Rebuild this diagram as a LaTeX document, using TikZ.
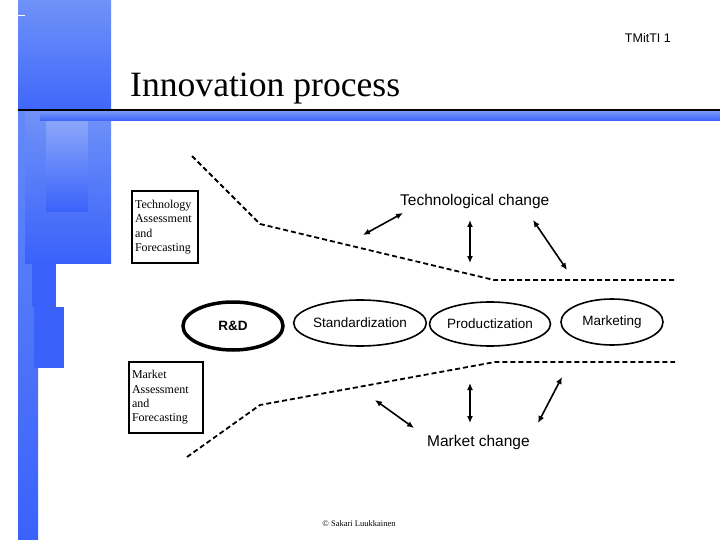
\documentclass[tikz,border=0pt]{standalone}
\usepackage{fontspec}
\setmainfont{Liberation Serif}
\newfontfamily\arialfont{Liberation Sans}
\usepackage{tikz}
\usetikzlibrary{shapes.geometric,arrows.meta}
\definecolor{barlight}{RGB}{112,146,248}
\definecolor{bardark}{RGB}{58,98,250}

\begin{document}
\begin{tikzpicture}[x=1pt,y=-1pt,
    stage/.style={draw,ellipse,line width=1.6pt,inner sep=0pt,font=\arialfont\fontsize{13.5}{15}\selectfont},
    assess/.style={draw,line width=1.6pt,align=left,inner sep=3pt,font=\fontsize{12}{14.3}\selectfont},
    change/.style={font=\arialfont\fontsize{15.5}{17}\selectfont},
    boundary/.style={line width=1.8pt,dash pattern=on 5pt off 3pt},
    linkarrow/.style={{Latex[length=7pt,width=6pt]}-{Latex[length=7pt,width=6pt]},line width=1.6pt}]
    \useasboundingbox (0,0) rectangle (720,540);
    % left decoration
    \shade[top color=barlight,bottom color=bardark] (18,0) rectangle (38,540);
    \shade[top color=barlight,bottom color=bardark!90!barlight] (18,0) rectangle (111,110);
    \shade[top color=barlight,bottom color=bardark] (25,110) rectangle (111,263);
    \shade[top color=barlight!80!white,bottom color=bardark] (46,119) rectangle (88,212);
    \fill[bardark] (32,263) rectangle (56,307);
    \fill[bardark] (34,307) rectangle (64,368);
    \shade[top color=barlight,bottom color=bardark] (40,112) rectangle (720,121);
    \draw[white,line width=1pt] (18,16) -- (25,16);
    \draw[black,line width=2.2pt] (18,110) -- (720,110);
    % title
    \node[anchor=base west,inner sep=0pt,font=\fontsize{35.6}{40}\selectfont] (title) at (130,97) {Innovation process};
    \node[anchor=base east,inner sep=0pt,font=\arialfont\fontsize{12.5}{14}\selectfont] (slide) at (671,43) {TMitTI 1};
    % stages
    \node[stage,line width=3.5pt,minimum width=100pt,minimum height=48pt,font=\arialfont\bfseries\fontsize{13.5}{15}\selectfont] (rd) at (233,326) {R\&D};
    \node[stage,minimum width=114pt,minimum height=46pt] (std) at (360,323) {Standardization};
    \node[stage,minimum width=110pt,minimum height=44pt] (prod) at (490,324) {Productization};
    \node[stage,minimum width=102pt,minimum height=46pt] (mkt) at (612,322) {Marketing};
    % assessment boxes
    \node[assess,text width=60pt,minimum height=72pt] (tech) at (165,227) {Technology\\Assessment\\and\\Forecasting};
    \node[assess,text width=68pt,minimum height=71pt] (market) at (166,397.5) {Market\\Assessment\\and\\Forecasting};
    % funnel
    \draw[boundary] (192,156) -- (260,224) -- (494,280) -- (675,280);
    \draw[boundary] (187,457) -- (260,405) -- (495,362) -- (675,362);
    % changes
    \node[change,anchor=base west,inner sep=0pt] (techchange) at (400,206) {Technological change};
    \node[change,anchor=base west,inner sep=0pt] (mktchange) at (427,446) {Market change};
    \coordinate (t1a) at (363,235); \coordinate (t1b) at (403,213);
    \coordinate (t2a) at (470,263); \coordinate (t2b) at (470,220);
    \coordinate (t3a) at (567,270); \coordinate (t3b) at (533,220);
    \coordinate (m1a) at (375,400); \coordinate (m1b) at (414,428);
    \coordinate (m2a) at (470,383); \coordinate (m2b) at (470,423);
    \coordinate (m3a) at (562,377); \coordinate (m3b) at (538,423);
    \draw[linkarrow] (t1a) -- (t1b);
    \draw[linkarrow] (t2a) -- (t2b);
    \draw[linkarrow] (t3a) -- (t3b);
    \draw[linkarrow] (m1a) -- (m1b);
    \draw[linkarrow] (m2a) -- (m2b);
    \draw[linkarrow] (m3a) -- (m3b);
    % footer
    \node[font=\fontsize{8.5}{10}\selectfont,inner sep=0pt] (author) at (359,524) {\textcopyright{} Sakari Luukkainen};
\end{tikzpicture}
\end{document}
